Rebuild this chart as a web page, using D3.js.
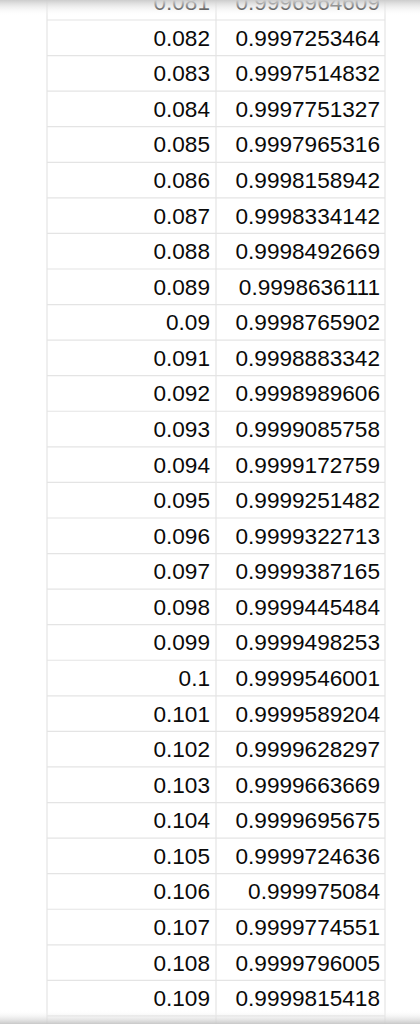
<!DOCTYPE html>
<html><head><meta charset="utf-8">
<script src="https://cdn.jsdelivr.net/npm/d3@7"></script>
<style>body{margin:0;background:#fff}svg{display:block}</style>
</head><body><div id="vis"></div>
<script>
var xs = ['0.081','0.082','0.083','0.084','0.085','0.086','0.087','0.088','0.089','0.09','0.091','0.092','0.093','0.094','0.095','0.096','0.097','0.098','0.099','0.1','0.101','0.102','0.103','0.104','0.105','0.106','0.107','0.108','0.109'];
var ys = ['0.9996964609','0.9997253464','0.9997514832','0.9997751327','0.9997965316','0.9998158942','0.9998334142','0.9998492669','0.9998636111','0.9998765902','0.9998883342','0.9998989606','0.9999085758','0.9999172759','0.9999251482','0.9999322713','0.9999387165','0.9999445484','0.9999498253','0.9999546001','0.9999589204','0.9999628297','0.9999663669','0.9999695675','0.9999724636','0.999975084','0.9999774551','0.9999796005','0.9999815418'];
var columns = ['x', 'y'];

var W = 420, H = 1024, rowH = 35.57;
var svg = d3.select('#vis').append('svg').attr('width', W).attr('height', H);

var row = d3.scaleBand().domain(d3.range(xs.length + 1))
    .range([20 - rowH, 20 + xs.length * rowH]);
var col = d3.scaleBand().domain(columns).range([47, 385]);

// grid
svg.append('g').selectAll('line').data(d3.range(xs.length + 1)).enter().append('line')
    .attr('x1', 47).attr('x2', 385)
    .attr('y1', d => row(d)).attr('y2', d => row(d))
    .attr('stroke', '#e4e4e4').attr('stroke-width', 1.2);
svg.append('g').selectAll('line').data([47, 216, 385]).enter().append('line')
    .attr('x1', d => d).attr('x2', d => d).attr('y1', 0).attr('y2', H)
    .attr('stroke', '#e4e4e4').attr('stroke-width', 1.2);

var cells = svg.append('g').attr('font-family', 'Liberation Sans, Arial, sans-serif')
    .attr('font-size', 22.6).attr('fill', '#0a0a0a').attr('text-anchor', 'end');
cells.selectAll('.cx').data(xs).enter().append('text')
    .attr('x', col('y') - 6).attr('y', (d, i) => row(i) + rowH / 2 + 8).text(d => d);
cells.selectAll('.cy').data(ys).enter().append('text')
    .attr('x', col('y') + col.bandwidth() - 5).attr('y', (d, i) => row(i) + rowH / 2 + 8).text(d => d);

// shadows
var defs = svg.append('defs');
var g1 = defs.append('linearGradient').attr('id', 'top').attr('x1', 0).attr('x2', 0).attr('y1', 0).attr('y2', 1);
g1.append('stop').attr('offset', 0).attr('stop-color', '#ccc').attr('stop-opacity', 1);
g1.append('stop').attr('offset', 1).attr('stop-color', '#fff').attr('stop-opacity', 0);
svg.append('rect').attr('width', W).attr('height', 16).attr('fill', 'url(#top)');
var g2 = defs.append('linearGradient').attr('id', 'bot').attr('x1', 0).attr('x2', 0).attr('y1', 0).attr('y2', 1);
g2.append('stop').attr('offset', 0).attr('stop-color', '#fff').attr('stop-opacity', 0);
g2.append('stop').attr('offset', 1).attr('stop-color', '#c8c8c8').attr('stop-opacity', 1);
svg.append('rect').attr('y', H - 14).attr('width', W).attr('height', 14).attr('fill', 'url(#bot)');
</script></body></html>
